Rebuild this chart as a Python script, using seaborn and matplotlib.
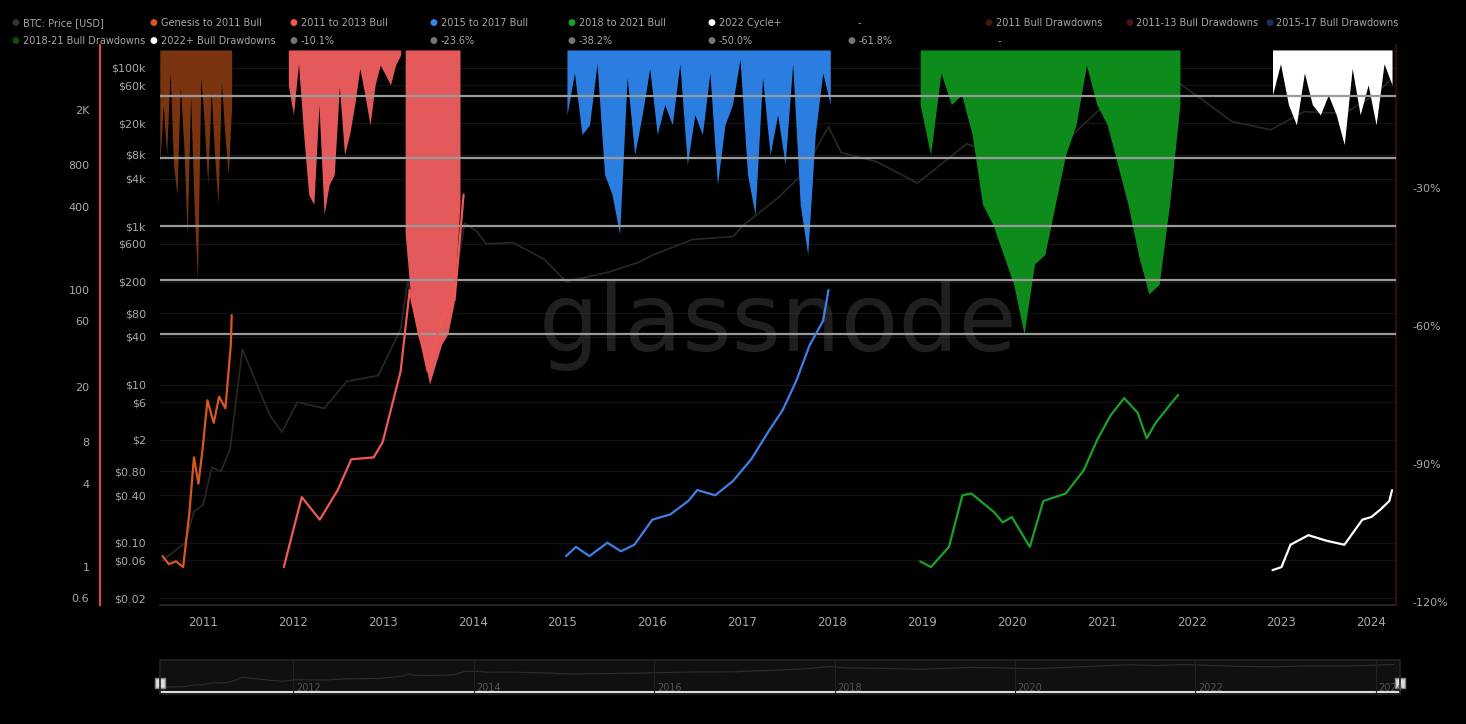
import numpy as np
import matplotlib
matplotlib.use("Agg")
import matplotlib.pyplot as plt
import seaborn as sns

sns.set_theme(style="dark")
plt.rcParams['font.family'] = ['DejaVu Sans']

# ---- data ----
price_t = [2010.55, 2010.8, 2010.9, 2011.0, 2011.1, 2011.2, 2011.3, 2011.44, 2011.6, 2011.75, 2011.88,
           2012.05, 2012.35, 2012.6, 2012.95, 2013.2, 2013.28, 2013.32, 2013.55, 2013.78, 2013.91,
           2014.05, 2014.15, 2014.45, 2014.8, 2015.04, 2015.5, 2015.85, 2016.0, 2016.45, 2016.9,
           2017.0, 2017.4, 2017.65, 2017.96, 2018.1, 2018.5, 2018.95, 2019.5, 2019.9, 2020.2,
           2020.5, 2020.95, 2021.28, 2021.55, 2021.86, 2022.1, 2022.45, 2022.88, 2023.25, 2023.7,
           2024.0, 2024.2]
price_usd = [0.06, 0.1, 0.25, 0.3, 0.9, 0.8, 1.5, 28, 10, 4, 2.5,
             6, 5, 11, 13, 50, 210, 100, 75, 130, 1100,
             850, 600, 620, 380, 200, 260, 350, 430, 680, 740,
             1000, 2300, 4300, 18000, 8500, 6500, 3500, 11000, 7300, 5200,
             9300, 28000, 58000, 32000, 64000, 41000, 21000, 16500, 28000, 26500,
             43000, 68000]

# cycle ROI lines (multiple of cycle start)
genesis_t = [2010.55, 2010.62, 2010.7, 2010.78, 2010.85, 2010.9, 2010.95, 2011.0, 2011.05, 2011.12, 2011.18, 2011.25, 2011.31, 2011.32]
genesis_roi = [1.2, 1.05, 1.1, 1.0, 2.5, 6.2, 4.0, 7.5, 16, 11, 17, 14, 40, 66]
c13_t = [2011.9, 2012.0, 2012.1, 2012.3, 2012.5, 2012.65, 2012.9, 2013.0, 2013.2, 2013.3, 2013.4, 2013.5, 2013.65, 2013.8, 2013.9]
c13_roi = [1.0, 1.8, 3.2, 2.2, 3.6, 6.0, 6.2, 8.0, 26, 100, 52, 26, 60, 85, 490]
c17_t = [2015.04, 2015.15, 2015.3, 2015.5, 2015.65, 2015.8, 2016.0, 2016.2, 2016.4, 2016.5, 2016.7, 2016.9,
         2017.1, 2017.3, 2017.45, 2017.6, 2017.75, 2017.9, 2017.96]
c17_roi = [1.2, 1.4, 1.2, 1.5, 1.3, 1.45, 2.2, 2.4, 3.0, 3.6, 3.3, 4.2, 6.0, 9.7, 13.6, 22, 40, 60, 100]
c21_t = [2018.98, 2019.1, 2019.3, 2019.45, 2019.55, 2019.8, 2019.9, 2020.0, 2020.2, 2020.35, 2020.6,
         2020.8, 2020.95, 2021.1, 2021.25, 2021.4, 2021.5, 2021.6, 2021.8, 2021.85]
c21_roi = [1.1, 1.0, 1.4, 3.3, 3.4, 2.5, 2.1, 2.3, 1.4, 3.0, 3.4, 5.0, 8.3, 12.5, 16.6, 13, 8.5, 11, 16, 17.5]
c22_t = [2022.9, 2023.0, 2023.1, 2023.3, 2023.5, 2023.7, 2023.9, 2024.0, 2024.1, 2024.2, 2024.23]
c22_roi = [0.95, 1.0, 1.45, 1.7, 1.55, 1.45, 2.2, 2.3, 2.6, 3.0, 3.6]

# drawdowns (% from running high), sampled evenly between start/end of each window
dd_genesis = (2010.52, 2011.32, [24.9, 12, 22.8, 5, 24.9, 31.5, 8, 20.6, 40.1, 10, 33.6, 50, 6, 16.3, 29.3, 9,
                                 22.8, 33.6, 7, 18.4, 27.1, 11.9])
dd_13a = (2011.95, 2013.2, [7.6, 14.1, 3, 18.4, 31.5, 33.6, 12, 35.8, 29.3, 27.1, 8, 22.8, 18.4, 11.9, 4,
                            9.8, 16.3, 7.6, 3.3, 5.4, 7.6, 3.3, 1.1])
dd_13b = (2013.25, 2013.86, [40.1, 55.3, 61.8, 66.2, 72.7, 68.3, 64, 61.8, 55.3, 33.6])
dd_17 = (2015.05, 2017.98, [14.1, 5, 18.4, 16.3, 3, 27.1, 31.5, 40.1, 6, 22.8, 14.1, 4, 18.4, 11.9, 16.3, 3,
                            24.9, 14.1, 18.4, 5, 29.3, 16.3, 11.9, 2, 27.1, 35.8, 6, 22.8, 14.1, 24.9, 3,
                            33.6, 44.5, 18.4, 5, 11.9])
dd_21 = (2018.98, 2021.87, [11.9, 22.8, 5, 11.9, 9.8, 18.4, 33.6, 38, 44.5, 51, 61.8, 46.6, 44.5, 33.6, 22.8,
                            16.3, 3.3, 11.9, 16.3, 24.9, 33.6, 44.5, 53.1, 51, 33.6, 11.9])
dd_22 = (2022.9, 2024.23, [9.8, 3, 11.9, 16.3, 5, 11.9, 14.1, 9.8, 14.1, 20.6, 4, 14.1, 7.6, 16.3, 3, 7.6])

fib_levels = [-10.1, -23.6, -38.2, -50.0, -61.8]

price_ticks = [0.02, 0.06, 0.10, 0.40, 0.80, 2, 6, 10, 40, 80, 200, 600, 1000, 4000, 8000, 20000, 60000, 100000]
price_labels = ["$0.02", "$0.06", "$0.10", "$0.40", "$0.80", "$2", "$6", "$10", "$40", "$80", "$200", "$600",
                "$1k", "$4k", "$8k", "$20k", "$60k", "$100k"]
roi_ticks = [0.6, 1, 4, 8, 20, 60, 100, 400, 800, 2000]
roi_labels = ["0.6", "1", "4", "8", "20", "60", "100", "400", "800", "2K"]
dd_ticks = [-30, -60, -90, -120]
years = list(range(2011, 2025))

# ---- styling ----
BG = "#000000"
TXT = "#a8a8a8"
C_PRICE = "#262626"
C_GEN, C_13, C_17, C_21, C_22 = "#d9581c", "#f05a55", "#3f7fe8", "#17a328", "#ffffff"
F_GEN, F_13, F_17, F_21, F_22 = "#7a3410", "#e4595a", "#2b7de0", "#0d8b1b", "#ffffff"

fig = plt.figure(figsize=(14.66, 7.24), dpi=100, facecolor=BG)
ax = fig.add_axes([0.109, 0.164, 0.843, 0.774], facecolor=BG)
ax_roi = ax.twinx()
ax_dd = ax.twinx()
for a in (ax, ax_roi, ax_dd):
    a.set_facecolor("none")
    for s in a.spines.values():
        s.set_visible(False)
    a.grid(False)
ax.set_zorder(1)
ax_dd.set_zorder(2)
ax_roi.set_zorder(3)

x_lim = (2010.52, 2024.27)

# drawdown fills
for (t0, t1, vals), col in [(dd_genesis, F_GEN), (dd_13a, F_13), (dd_13b, F_13), (dd_17, F_17),
                            (dd_21, F_21), (dd_22, F_22)]:
    t = np.linspace(t0, t1, len(vals))
    ax_dd.fill_between(t, 0, -np.array(vals), color=col, lw=0)
for lv in fib_levels:
    ax_dd.axhline(lv, color="#9a9a9a", lw=1.6, zorder=5)
ax_dd.set_ylim(-120.8, 1.1)
ax_dd.set_yticks(dd_ticks)
ax_dd.set_yticklabels([f"{v}%" for v in dd_ticks])
ax_dd.tick_params(axis="y", colors=TXT, labelsize=8, length=0, pad=12)
ax_dd.spines["right"].set_visible(True)
ax_dd.spines["right"].set_color("#3a1010")

# price
sns.lineplot(x=price_t, y=price_usd, ax=ax, color=C_PRICE, lw=1.3)
ax.set_yscale("log")
ax.set_ylim(0.0163, 195000)
ax.set_yticks(price_ticks)
ax.set_yticklabels(price_labels)
ax.yaxis.set_minor_locator(matplotlib.ticker.NullLocator())
ax.tick_params(axis="y", colors=TXT, labelsize=8, length=0, pad=10)
for pt in price_ticks:
    ax.axhline(pt, color="#141414", lw=0.8, zorder=0)

# cycle lines
for t, r, c in [(genesis_t, genesis_roi, C_GEN), (c13_t, c13_roi, C_13), (c17_t, c17_roi, C_17),
                (c21_t, c21_roi, C_21), (c22_t, c22_roi, C_22)]:
    sns.lineplot(x=t, y=r, ax=ax_roi, color=c, lw=1.6)
ax_roi.set_yscale("log")
ax_roi.set_ylim(0.53, 5900)
ax_roi.spines["left"].set_visible(True)
ax_roi.spines["left"].set_position(("axes", -0.048))
ax_roi.spines["left"].set_color("#e04848")
ax_roi.spines["left"].set_linewidth(1.5)
ax_roi.yaxis.set_ticks_position("left")
ax_roi.yaxis.set_label_position("left")
ax_roi.set_yticks(roi_ticks)
ax_roi.set_yticklabels(roi_labels)
ax_roi.yaxis.set_minor_locator(matplotlib.ticker.NullLocator())
ax_roi.tick_params(axis="y", colors=TXT, labelsize=8, length=0, pad=8)

for a in (ax, ax_roi, ax_dd):
    a.set_xlim(*x_lim)
    a.set_xlabel("")
    a.set_ylabel("")
ax.set_xticks(years)
ax.set_xticklabels([str(y) for y in years])
ax.tick_params(axis="x", colors=TXT, labelsize=8.5, length=0, pad=8)
ax.spines["bottom"].set_visible(True)
ax.spines["bottom"].set_color("#2a2a2a")

# watermark
ax.text(0.5, 0.5, "glassnode", transform=ax.transAxes, ha="center", va="center",
        fontsize=68, color="#3a3a3a", alpha=0.55, zorder=10)

# legend
legend_rows = [
    [("BTC: Price [USD]", "#333333", 12), ("Genesis to 2011 Bull", C_GEN, 150), ("2011 to 2013 Bull", C_13, 290),
     ("2015 to 2017 Bull", C_17, 430), ("2018 to 2021 Bull", C_21, 568), ("2022 Cycle+", "#ffffff", 708),
     ("-", None, 858), ("2011 Bull Drawdowns", "#3a1a0c", 985), ("2011-13 Bull Drawdowns", "#4a1414", 1125),
     ("2015-17 Bull Drawdowns", "#12305a", 1265)],
    [("2018-21 Bull Drawdowns", "#0d4a14", 12), ("2022+ Bull Drawdowns", "#ffffff", 150),
     ("-10.1%", "#777777", 290), ("-23.6%", "#777777", 430), ("-38.2%", "#777777", 568),
     ("-50.0%", "#777777", 708), ("-61.8%", "#777777", 848), ("-", None, 998)],
]
for row, ypx in zip(legend_rows, (23, 41)):
    for label, col, xpx in row:
        yf = 1 - ypx / 724
        if col is not None:
            fig.text(xpx / 1466, yf, "●", color=col, fontsize=6.5, ha="left", va="center")
            fig.text((xpx + 11) / 1466, yf, label, color=TXT, fontsize=7, ha="left", va="center")
        else:
            fig.text(xpx / 1466, yf, label, color=TXT, fontsize=7, ha="left", va="center")

# navigator strip
nav = fig.add_axes([160 / 1466, 1 - 694 / 724, 1240 / 1466, 34 / 724], facecolor="#101010")
nav.plot(price_t, np.log10(price_usd), color="#2e2e2e", lw=0.8)
nav.set_xlim(*x_lim)
nav.set_ylim(-3, 6)
nav.axhline(-2.6, color="#dddddd", lw=1.5)
for s in nav.spines.values():
    s.set_color("#222222")
nav.set_xticks([]); nav.set_yticks([])
for yr in range(2012, 2025, 2):
    nav.axvline(yr, color="#222222", lw=0.8)
    nav.text(yr + 0.03, 0.08, str(yr), transform=nav.get_xaxis_transform(), color="#555555", fontsize=7)
for xe in x_lim:
    nav.plot([xe], [-0.2], marker="s", ms=7, mfc="#dddddd", mec="#888888", clip_on=False)

fig.savefig("out.png", dpi=100, facecolor=BG)
